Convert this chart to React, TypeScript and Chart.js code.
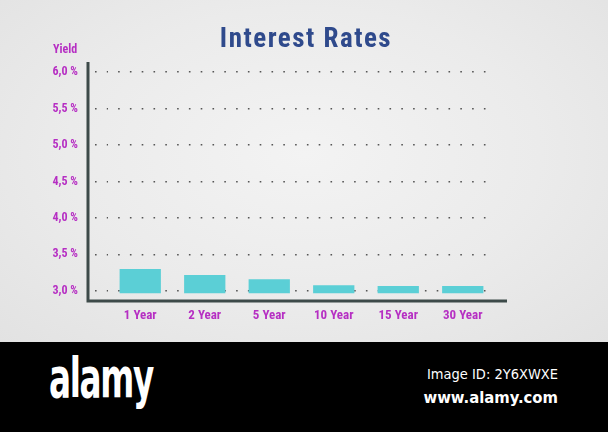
import React, { useEffect, useRef } from 'react';
import { Chart, registerables } from 'chart.js';

Chart.register(...registerables);

const maturities = ['1 Year', '2 Year', '5 Year', '10 Year', '15 Year', '30 Year'];
const yields = [3.3, 3.22, 3.16, 3.08, 3.07, 3.07];
const yTicks = [3.0, 3.5, 4.0, 4.5, 5.0, 5.5, 6.0];
const barBase = 2.97;

const FONT = "'Liberation Sans Narrow', 'Roboto Condensed', 'DejaVu Sans Condensed', sans-serif";
const MAGENTA = '#b62fc3';

// title, "Yield" caption and the L-shaped axis lines
const decorations = {
  id: 'decorations',
  afterDatasetsDraw(chart: Chart) {
    const { ctx, chartArea } = chart;
    ctx.save();
    ctx.strokeStyle = '#3d4a49';
    ctx.lineWidth = 3;
    ctx.beginPath();
    ctx.moveTo(chartArea.left - 20, chartArea.top);
    ctx.lineTo(chartArea.left - 20, chartArea.bottom);
    ctx.lineTo(chartArea.right + 12, chartArea.bottom);
    ctx.stroke();

    ctx.fillStyle = MAGENTA;
    ctx.font = `bold 12px ${FONT}`;
    ctx.textAlign = 'center';
    ctx.textBaseline = 'middle';
    ctx.fillText('Yield', chartArea.left - 43, chartArea.top - 12);

    ctx.fillStyle = '#2f4a8c';
    ctx.font = `bold 27px ${FONT}`;
    (ctx as any).letterSpacing = '1.5px';
    ctx.fillText('Interest Rates', chart.width / 2 + 2, chartArea.top - 22);
    ctx.restore();
  },
};

function InterestChart() {
  const chartRef = useRef<HTMLCanvasElement | null>(null);

  useEffect(() => {
    if (!chartRef.current) return;
    const chartInstance = new Chart(chartRef.current, {
      type: 'bar',
      data: {
        labels: maturities,
        datasets: [
          {
            data: yields,
            base: barBase,
            backgroundColor: '#5bcfd6',
            borderWidth: 0,
            barPercentage: 0.64,
            categoryPercentage: 1,
          },
        ],
      },
      options: {
        animation: false,
        responsive: true,
        maintainAspectRatio: false,
        layout: { padding: { left: 0, right: 113, top: 62, bottom: 0 } },
        plugins: {
          legend: { display: false },
          tooltip: { enabled: false },
        },
        scales: {
          x: {
            grid: { display: false, drawTicks: false },
            border: { display: false },
            ticks: {
              color: MAGENTA,
              font: { family: FONT, size: 13, weight: 'bold' },
              padding: 7,
            },
            afterFit(scale: any) {
              scale.height = 41;
            },
          },
          y: {
            min: 2.863,
            max: 6.137,
            border: { display: false, dash: [1.6, 10.2], dashOffset: 1.7 },
            grid: {
              color: '#555',
              lineWidth: 1.6,
              drawTicks: true,
              tickLength: 13,
              tickColor: '#555',
              tickWidth: 1.6,
              tickBorderDash: [1.6, 10.2],
            },
            ticks: {
              color: MAGENTA,
              font: { family: FONT, size: 12, weight: 'bold' },
              padding: 17,
              callback: (v: any) => Number(v).toFixed(1).replace('.', ',') + ' %',
            },
            afterBuildTicks(scale: any) {
              scale.ticks = yTicks.map((v) => ({ value: v }));
            },
            afterFit(scale: any) {
              scale.width = 108;
            },
          },
        },
      },
      plugins: [decorations],
    });
    return () => {
      chartInstance.destroy();
    };
  }, []);

  return <canvas ref={chartRef} />;
}

export default function App() {
  useEffect(() => {
    document.body.style.margin = '0';
  }, []);
  return (
    <div style={{ width: 608, height: 432, fontFamily: "'DejaVu Sans Condensed', 'Open Sans', sans-serif" }}>
      <div
        style={{
          position: 'relative',
          width: 608,
          height: 342,
          background: 'radial-gradient(ellipse at 50% 45%, #f3f3f3 0%, #ebebeb 55%, #e2e2e2 100%)',
        }}
      >
        <InterestChart />
      </div>
      <div style={{ position: 'relative', width: 608, height: 90, background: '#000', color: '#fff', overflow: 'hidden' }}>
        <div
          style={{
            position: 'absolute',
            left: 49,
            top: 4,
            fontFamily: "'DejaVu Sans Condensed', sans-serif",
            fontWeight: 'bold',
            fontSize: 55,
            letterSpacing: -2,
            transform: 'scaleX(0.66)',
            transformOrigin: 'left top',
          }}
        >
          alamy
        </div>
        <div style={{ position: 'absolute', right: 50, top: 24, fontSize: 14.5, lineHeight: '16px' }}>Image ID: 2Y6XWXE</div>
        <div style={{ position: 'absolute', right: 50, top: 46, fontSize: 16.5, fontWeight: 'bold', lineHeight: '19px' }}>
          www.alamy.com
        </div>
      </div>
    </div>
  );
}
